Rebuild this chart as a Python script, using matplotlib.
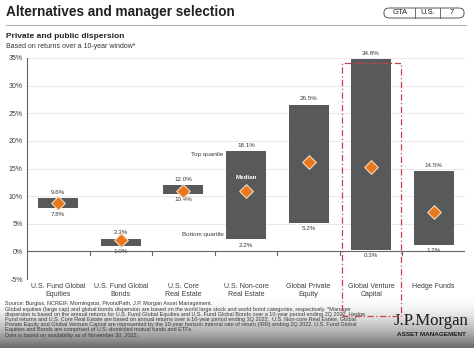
import matplotlib.pyplot as plt
from matplotlib.patches import FancyBboxPatch, Rectangle
import numpy as np

# 数据：十年期收益的分位数离散度
categories = ['U.S. Fund Global\nEquities', 'U.S. Fund Global\nBonds', 'U.S. Core\nReal Estate',
              'U.S. Non-core\nReal Estate', 'Global Private\nEquity', 'Global Venture\nCapital',
              'Hedge Funds']
top_quartile = [9.6, 2.3, 12.0, 18.1, 26.5, 34.8, 14.5]
bottom_quartile = [7.8, 1.0, 10.4, 2.2, 5.2, 0.3, 1.2]
median = [8.7, 2.0, 11.0, 10.9, 16.1, 15.2, 7.2]
yticks = [-5, 0, 5, 10, 15, 20, 25, 30, 35]

bar_color = '#58595b'
dot_color = '#e8771e'
text_color = '#3c3c3c'

footnote = [
    "Source: Burgiss, NCREIF, Morningstar, PivotalPath, J.P. Morgan Asset Management.",
    "Global equities (large cap) and global bonds dispersion are based on the world large stock and world bond categories, respectively. *Manager",
    "dispersion is based on the annual returns for U.S. Fund Global Equities and U.S. Fund Global Bonds over a 10-year period ending 2Q 2022. Hedge",
    "Fund returns and U.S. Core Real Estate are based on annual returns over a 10-year period ending 3Q 2022.  U.S. Non-core Real Estate, Global",
    "Private Equity and Global Venture Capital are represented by the 10-year horizon internal rate of return (IRR) ending 2Q 2022. U.S. Fund Global",
    "Equities and Bonds are comprised of U.S.-domiciled mutual funds and ETFs.",
    "Data is based on availability as of November 30, 2022.",
]

plt.rcParams['font.family'] = ['Liberation Sans', 'DejaVu Sans']

fig = plt.figure(figsize=(4.74, 3.48), dpi=100)
W, H = 474, 348


def fx(px):
    return px / W


def fy(py):
    return 1 - py / H


# 底部渐暗（放在最底层，上浅下深）
grad = fig.add_axes([0, 0, 1, fy(296)])
grad.set_zorder(0)
g = np.linspace(0, 1, 200).reshape(-1, 1) ** 1.8
rgba = np.zeros((200, 1, 4))
rgba[..., :3] = 0.30
rgba[..., 3] = g * 0.85
grad.imshow(rgba, aspect='auto', extent=[0, 1, 0, 1], origin='upper')
grad.axis('off')

# 标题区域
fig.text(fx(6), fy(12), 'Alternatives and manager selection', fontsize=9.8,
         fontweight='bold', color='#222222', va='center', ha='left')
fig.add_artist(plt.Line2D([fx(6), fx(466)], [fy(25), fy(25)], color='#b0b0b0', lw=0.8))

badge = FancyBboxPatch((fx(384), fy(18)), fx(80), 10 / H, transform=fig.transFigure,
                       boxstyle='round,pad=0,rounding_size=0.012', fc='white',
                       ec='#555555', lw=0.7)
fig.add_artist(badge)
for px in (415, 440):
    fig.add_artist(plt.Line2D([fx(px), fx(px)], [fy(18), fy(8)], color='#555555', lw=0.6))
for label, px in (('GTA', 400), ('U.S.', 428), ('7', 452)):
    fig.text(fx(px), fy(13), label, fontsize=5.5, ha='center', va='center', color='#222222')

fig.text(fx(6), fy(37), 'Private and public dispersion', fontsize=6, fontweight='bold',
         color='#222222', va='center')
fig.text(fx(6), fy(47), 'Based on returns over a 10-year window*', fontsize=5,
         color='#333333', va='center')

# 主图
ax = fig.add_axes([fx(27), fy(279), fx(465 - 27), (279 - 58) / H])
ax.set_zorder(2)
ax.patch.set_alpha(0)
x = np.arange(len(categories))
heights = [t - b for t, b in zip(top_quartile, bottom_quartile)]
ax.bar(x, heights, bottom=bottom_quartile, width=0.64, color=bar_color, zorder=3)
ax.scatter(x, median, marker='D', s=48, color=dot_color, edgecolor='#f6d9b8',
           linewidth=0.8, zorder=4)

for xi, t, b in zip(x, top_quartile, bottom_quartile):
    ax.annotate(f'{t:.1f}%', (xi, t), xytext=(0, 2.5), textcoords='offset points',
                ha='center', va='bottom', fontsize=4.5, color=text_color)
    ax.annotate(f'{b:.1f}%', (xi, b), xytext=(0, -2.5), textcoords='offset points',
                ha='center', va='top', fontsize=4.5, color=text_color)

# 图例说明（放在非核心地产柱旁）
ax.text(x[3] - 0.36, top_quartile[3] - 0.5, 'Top quartile', ha='right', va='center',
        fontsize=4.5, color=text_color)
ax.text(x[3], median[3] + 2.4, 'Median', ha='center', va='center', fontsize=4.5,
        color='white', fontweight='bold')
ax.text(x[3] - 0.36, bottom_quartile[3] + 0.8, 'Bottom quartile', ha='right',
        va='center', fontsize=4.5, color=text_color)

ax.set_xlim(-0.5, len(categories) - 0.5)
ax.set_ylim(-5, 35)
ax.set_yticks(yticks)
ax.set_yticklabels([f'{v}%' for v in yticks], fontsize=5, color=text_color)
ax.set_xticks(x)
ax.set_xticklabels(categories, fontsize=5, color=text_color, linespacing=1.1)
ax.tick_params(axis='x', length=0, pad=3)
ax.tick_params(axis='y', length=0, pad=3)
ax.grid(axis='y', color='#e6e6e6', lw=0.6, zorder=0)
for side in ('top', 'right', 'bottom'):
    ax.spines[side].set_visible(False)
ax.spines['left'].set_color('#666666')
ax.spines['left'].set_linewidth(0.8)
ax.axhline(0, color='#666666', lw=0.8, zorder=2)
for b in np.arange(0.5, len(categories) - 0.5):
    ax.plot([b, b], [0, -0.6], color='#666666', lw=0.8, zorder=2)

# 风险投资的红色虚线框
box = Rectangle((fx(342), fy(316)), fx(401 - 342), (316 - 63) / H,
                transform=fig.transFigure, fill=False, ec='#c9414e', lw=0.9,
                linestyle=(0, (5, 2, 1, 2)), zorder=5)
fig.add_artist(box)

# 脚注
for i, line in enumerate(footnote):
    fig.text(fx(5), fy(304 + i * 5.2), line, fontsize=4.0, color='#3a3a3a',
             va='center', ha='left', zorder=3)

fig.text(fx(431), fy(321), 'J.P.Morgan', fontsize=12, family='Liberation Serif',
         color='#1a1a1a', ha='center', va='center', zorder=3)
fig.text(fx(431), fy(334), 'ASSET MANAGEMENT', fontsize=4.6, fontweight='bold',
         color='#1a1a1a', ha='center', va='center', zorder=3)

fig.savefig('out.png', dpi=100, facecolor='white')
